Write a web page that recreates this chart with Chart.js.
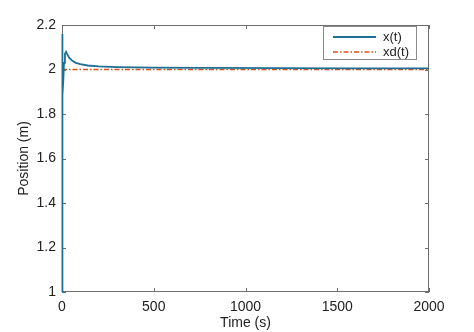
<!DOCTYPE html>
<html>
<head>
<meta charset="utf-8">
<script src="https://cdn.jsdelivr.net/npm/chart.js@4/dist/chart.umd.min.js"></script>
<style>
  html, body { margin: 0; padding: 0; background: #fff; }
  #wrap { width: 474px; height: 332px; }
</style>
</head>
<body>
<div id="wrap"><canvas id="chart" width="474" height="332"></canvas></div>
<script>
// -------------------- DATA --------------------
const times = [0, 1, 2, 4, 7, 11, 16, 22, 30, 40, 55, 75, 100, 140, 200, 300, 500, 800, 1200, 1600, 2000];
const position = [1, 1.7, 2.16, 1.885, 1.95, 2.03, 2.07, 2.08, 2.066, 2.052, 2.04, 2.03, 2.024, 2.018, 2.014, 2.011, 2.008, 2.007, 2.006, 2.005, 2.005];
const desired = [2, 2];
const desiredTimes = [0, 2000];
const seriesNames = ["x(t)", "xd(t)"];
const xTicks = [0, 500, 1000, 1500, 2000];
const yTicks = [1, 1.2, 1.4, 1.6, 1.8, 2, 2.2];

const blue = "#1f6e96";
const orange = "#d95319";
const axisGray = "#6f6f6f";
const font = "'Liberation Sans', Arial, sans-serif";

// -------------------- PLUGIN: frame, inward ticks, legend --------------------
const matlabAxes = {
  id: "matlabAxes",
  beforeDatasetsDraw(chart) {
    const ctx = chart.ctx;
    const a = chart.chartArea;
    const xs = chart.scales.x, ys = chart.scales.y;
    ctx.save();
    ctx.strokeStyle = axisGray;
    ctx.lineWidth = 1;
    ctx.strokeRect(a.left + 0.5, a.top + 0.5, a.right - a.left - 1, a.bottom - a.top - 1);

    // inward ticks on all sides
    ctx.beginPath();
    xTicks.forEach(v => {
      let px = Math.round(xs.getPixelForValue(v)) + 0.5;
      ctx.moveTo(px, a.bottom); ctx.lineTo(px, a.bottom - 4);
      ctx.moveTo(px, a.top); ctx.lineTo(px, a.top + 4);
    });
    yTicks.forEach(v => {
      let py = Math.round(ys.getPixelForValue(v)) + 0.5;
      ctx.moveTo(a.left, py); ctx.lineTo(a.left + 4, py);
      ctx.moveTo(a.right, py); ctx.lineTo(a.right - 4, py);
    });
    ctx.stroke();
    ctx.restore();
  },
  afterDraw(chart) {
    const ctx = chart.ctx;
    ctx.save();
    // legend box
    const lx = 323, ly = 26, lw = 93, lh = 33;
    ctx.fillStyle = "#fff";
    ctx.fillRect(lx, ly, lw, lh);
    ctx.strokeStyle = "#8a8a8a";
    ctx.lineWidth = 1;
    ctx.strokeRect(lx + 0.5, ly + 0.5, lw, lh);

    ctx.font = "13px " + font;
    ctx.textBaseline = "middle";
    ctx.fillStyle = "#222";
    const ds = chart.data.datasets;
    [0, 1].forEach(i => {
      let yy = ly + 11 + i * 15;
      ctx.beginPath();
      ctx.strokeStyle = ds[i].borderColor;
      ctx.lineWidth = ds[i].borderWidth;
      ctx.setLineDash(ds[i].borderDash || []);
      ctx.moveTo(lx + 10, yy);
      ctx.lineTo(lx + 53, yy);
      ctx.stroke();
      ctx.setLineDash([]);
      ctx.fillText(seriesNames[i], lx + 60, yy);
    });
    ctx.restore();
  }
};

// -------------------- CHART --------------------
new Chart(document.getElementById("chart"), {
  type: "line",
  data: {
    datasets: [
      {
        label: seriesNames[0],
        data: times.map((t, i) => ({ x: t, y: position[i] })),
        borderColor: blue,
        borderWidth: 1.8,
        pointRadius: 0,
        tension: 0,
        clip: 3
      },
      {
        label: seriesNames[1],
        data: desiredTimes.map((t, i) => ({ x: t, y: desired[i] })),
        borderColor: orange,
        borderWidth: 1.3,
        borderDash: [5, 2, 1.5, 2],
        pointRadius: 0
      }
    ]
  },
  plugins: [matlabAxes],
  options: {
    responsive: false,
    animation: false,
    layout: { padding: { top: 25, right: 45, left: 0, bottom: 0 } },
    plugins: {
      legend: { display: false },
      tooltip: { enabled: false }
    },
    scales: {
      x: {
        type: "linear",
        min: 0,
        max: 2000,
        afterBuildTicks: s => { s.ticks = xTicks.map(v => ({ value: v })); },
        afterFit: s => { s.height = 40; },
        grid: { display: false, drawTicks: false },
        border: { display: false },
        ticks: {
          color: "#222",
          padding: 7,
          maxRotation: 0,
          font: { family: font, size: 14 },
          callback: v => String(v)
        },
        title: {
          display: true,
          text: "Time (s)",
          color: "#222",
          padding: { top: 0, bottom: 0 },
          font: { family: font, size: 14 }
        }
      },
      y: {
        type: "linear",
        min: 1,
        max: 2.2,
        afterBuildTicks: s => { s.ticks = yTicks.map(v => ({ value: v })); },
        afterFit: s => { s.width = 62; },
        grid: { display: false, drawTicks: false },
        border: { display: false },
        ticks: {
          color: "#222",
          padding: 6,
          font: { family: font, size: 14 },
          callback: v => String(Number(v.toFixed(1)))
        },
        title: {
          display: true,
          text: "Position (m)",
          color: "#222",
          padding: { top: 16, bottom: 4 },
          font: { family: font, size: 14 }
        }
      }
    }
  }
});
</script>
</body>
</html>
